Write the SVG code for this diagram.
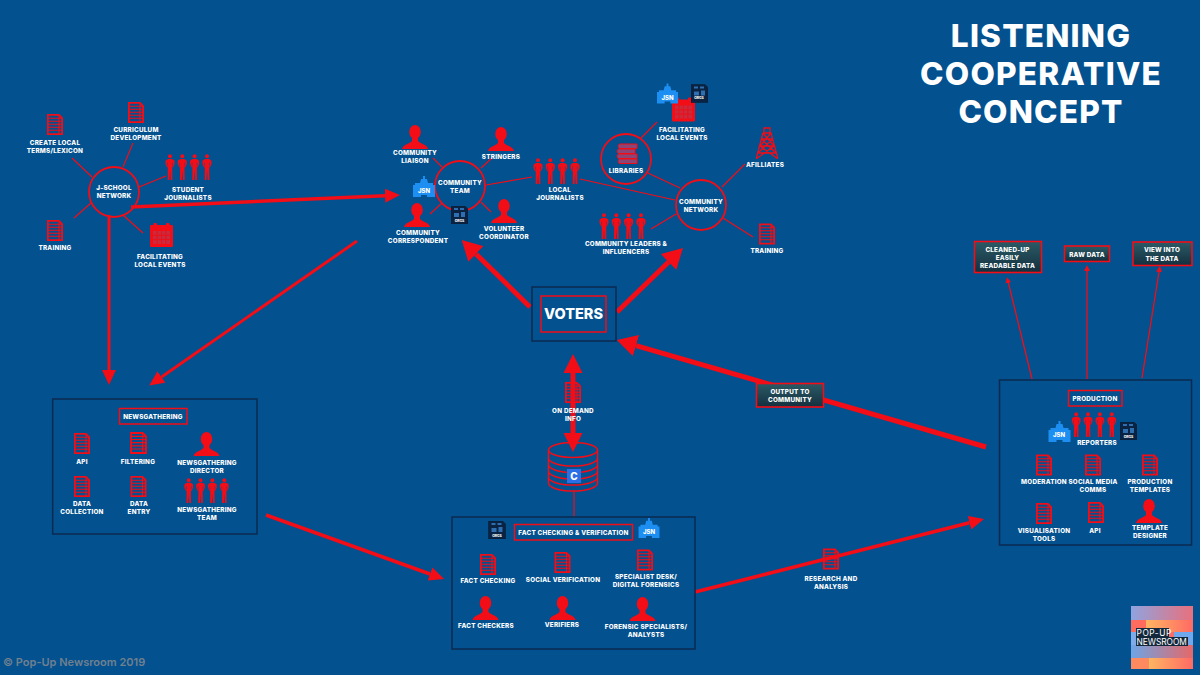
<svg xmlns="http://www.w3.org/2000/svg" width="1200" height="675" viewBox="0 0 1200 675">
<style>
text{font-family:Inter,"Liberation Sans",sans-serif;font-weight:800;fill:#fff;text-anchor:middle}
.l{font-size:6.3px;letter-spacing:.24px}
.ttl{font-size:31.6px;letter-spacing:1.2px}
.j{font-size:6px;font-weight:800}
.o{font-size:3.4px}
.c{fill:none;stroke:#f20d17;stroke-width:1.8}
.t{stroke:#f20d17;stroke-width:1.2;fill:none}
.a{stroke:#f20d17;fill:none}
.box{fill:none;stroke:#0c2a50;stroke-width:1.5}
.rb{fill:none;stroke:#f20d17;stroke-width:1.5}
.btn{fill:url(#btn);stroke:#f20d17;stroke-width:1.6}
</style>
<defs>
<linearGradient id="btn" x1="0" y1="0" x2="0" y2="1"><stop offset="0" stop-color="#2b5a66"/><stop offset="1" stop-color="#14303f"/></linearGradient>
<linearGradient id="lg1" x1="0" y1="0" x2="1" y2="0"><stop offset="0" stop-color="#8fa4e0"/><stop offset="1" stop-color="#e8707c"/></linearGradient>
<linearGradient id="lg2" x1="0" y1="0" x2="1" y2="0"><stop offset="0" stop-color="#ffb562"/><stop offset="1" stop-color="#ff6a64"/></linearGradient>
<linearGradient id="lg3" x1="0" y1="0" x2="1" y2="0"><stop offset="0" stop-color="#78aef0"/><stop offset="1" stop-color="#ff6a64"/></linearGradient>
<marker id="hs" markerUnits="userSpaceOnUse" markerWidth="6" markerHeight="6" viewBox="0 0 6 6" refX="0" refY="3" orient="auto"><polygon points="0,0 6,3 0,6" fill="#f20d17"/></marker>
<marker id="hm" markerUnits="userSpaceOnUse" markerWidth="15" markerHeight="14" viewBox="0 0 15 14" refX="0" refY="7" orient="auto"><polygon points="0,0 15,7 0,14" fill="#f20d17"/></marker>
<marker id="hl" markerUnits="userSpaceOnUse" markerWidth="20" markerHeight="22" viewBox="0 0 20 22" refX="0" refY="11" orient="auto"><polygon points="0,0 20,11 0,22" fill="#f20d17"/></marker>
<symbol id="doc" viewBox="0 0 16 21">
<path d="M.9.9H12L15.100 4V20.100H.9Z" fill="none" stroke="#f20d17" stroke-width="1.8"/>
<path d="M1 4.200H15M1 7.200H15M1 10.200H15M1 13.200H15M1 16.200H15M12 1V20" fill="none" stroke="#f20d17" stroke-width="1.1"/>
</symbol>
<symbol id="person" viewBox="0 0 26 24">
<ellipse cx="13" cy="7" rx="5.800" ry="7" fill="#f20d17"/>
<path d="M0 24C1 19.500 7 19 10 16V12H16V16C19 19 25 19.500 26 24Z" fill="#f20d17"/>
</symbol>
<g id="fig">
<circle cx="5" cy="2.300" r="2" fill="#f20d17"/>
<path d="M3 5H7L9.400 6.500 9.600 10 7.800 13.500 7.200 13 8 10 7.400 8 7.200 13.500 7.400 26H5.600L5.100 16 4.500 26H2.700L2.800 13.500 2.600 8 2 10 2.800 13 2.200 13.500 .4 10 .6 6.500Z" fill="#f20d17"/>
</g>
<symbol id="group" viewBox="0 0 47 26">
<use href="#fig"/><use href="#fig" x="12.300"/><use href="#fig" x="24.600"/><use href="#fig" x="37"/>
</symbol>
<symbol id="cal" viewBox="0 0 23 24">
<rect x="0" y="2" width="23" height="22" rx="1" fill="#f20d17"/>
<rect x="3.500" y="0" width="3.500" height="5" rx="1" fill="#f20d17"/><rect x="16" y="0" width="3.500" height="5" rx="1" fill="#f20d17"/>
<path d="M3 8H20V21H3Z" fill="#c92a3c"/>
<path d="M3 12.300H20M3 16.600H20M7.200 8V21M11.500 8V21M15.800 8V21" stroke="#f20d17" stroke-width=".9" fill="none"/>
</symbol>
<symbol id="tower" viewBox="0 0 22 33">
<path d="M8 2H14V7H8ZM7 7H15L22 33M7 7L0 33M5.500 13H16.500M4 20H18M2 27H20M7 7L18 20M15 7L4 20M5.500 13L20 27M16.500 13L2 27M4 20L22 33M18 20L0 33" fill="none" stroke="#f20d17" stroke-width="1.300"/>
</symbol>
<symbol id="books" viewBox="0 0 22 21">
<path d="M21 1H4C1.500 1 1.500 5.500 4 5.500H21ZM19 6H3C.5 6 .5 10.500 3 10.500H19ZM21 11H3C.5 11 .5 15.500 3 15.500H21ZM21 16H4C1.500 16 1.500 20.500 4 20.500H21Z" fill="#8c4676" stroke="#f20d17" stroke-width="1"/>
</symbol>
<symbol id="jsn" viewBox="0 0 22 21">
<path d="M10 0H12V3H14L15 7H20V9H22V21H14V19H8V21H0V9H2V7H7L8 3H10Z" fill="#1d8ff2"/>
</symbol>
<symbol id="orgs" viewBox="0 0 17 18">
<path d="M0 0H14L17 3V18H0Z" fill="#0b2342" stroke="#082038" stroke-width=".6"/>
<path d="M3 2H7V4H3ZM9 2H13V4H9ZM3 7H8V11H3ZM10 6H14V11H10Z" fill="#2d6fb0"/>
</symbol>
</defs>
<rect id="background" width="1200" height="675" fill="#03518f"/>

<g id="title"><text class="ttl" x="1041" y="47">LISTENING</text><text class="ttl" x="1041" y="85">COOPERATIVE</text><text class="ttl" x="1041" y="123">CONCEPT</text></g>

<g id="connectors">
<path class="t" d="M72 158L92 177M133 143L123 167M166 176L139 187M91 203L74 218M123 215L143 233"/>
<path class="t" d="M433 158L442 167M481 168L492 158M486 185L532 177M430 214L442 203M481 202L491 212M580 179L675 200M641 138L657 122M648 173L680 188M722 187L745 164M723 218L753 237M651 229L676 214M574 491V517"/>
<path class="a" stroke-width="3.500" d="M131 207L385 195.700" marker-end="url(#hm)"/>
<path class="a" stroke-width="3" d="M109 215V370" marker-end="url(#hm)"/>
<path class="a" stroke-width="3" d="M357 241L161.500 377" marker-end="url(#hm)"/>
<path class="a" stroke-width="3.500" d="M266 515L430 574" marker-end="url(#hm)"/>
<path class="a" stroke-width="3.500" d="M695 592L969.500 522.700" marker-end="url(#hm)"/>
<path class="a" stroke-width="5" d="M986 447L636 345.600" marker-end="url(#hl)"/>
<path class="a" stroke-width="5" d="M530 307L476 254" marker-end="url(#hl)"/>
<path class="a" stroke-width="5" d="M617 312L668.600 262" marker-end="url(#hl)"/>
<path class="a" stroke-width="5" d="M573 373V433"/>
<polygon points="573,354 582.500,373 563.500,373" fill="#f20d17"/>
<polygon points="573,452 582.500,433 563.500,433" fill="#f20d17"/>
<path class="a" stroke-width="1.300" d="M1032 379L1008.400 283" marker-end="url(#hs)"/>
<path class="a" stroke-width="1.300" d="M1087 379V271" marker-end="url(#hs)"/>
<path class="a" stroke-width="1.300" d="M1142 378L1159 272" marker-end="url(#hs)"/>
</g>

<g id="n-jschool"><circle class="c" cx="114" cy="192" r="25"/><text class="l" x="114" y="189.500">J-SCHOOL</text><text class="l" x="114" y="197.500">NETWORK</text></g>
<g id="n-create"><use href="#doc" x="47" y="114" width="16" height="21"/><text class="l" x="55" y="144.500">CREATE LOCAL</text><text class="l" x="55" y="152.500">TERMS/LEXICON</text></g>
<g id="n-curriculum"><use href="#doc" x="128" y="102" width="16" height="21"/><text class="l" x="136" y="132">CURRICULUM</text><text class="l" x="136" y="140">DEVELOPMENT</text></g>
<g id="n-student"><use href="#group" x="165" y="154" width="47" height="26"/><text class="l" x="188" y="191.500">STUDENT</text><text class="l" x="188" y="199.500">JOURNALISTS</text></g>
<g id="n-training1"><use href="#doc" x="47" y="220" width="16" height="21"/><text class="l" x="55" y="249.500">TRAINING</text></g>
<g id="n-events1"><use href="#cal" x="150" y="223" width="23" height="24"/><text class="l" x="160" y="258.500">FACILITATING</text><text class="l" x="160" y="266.500">LOCAL EVENTS</text></g>

<g id="n-communityteam"><circle class="c" cx="460" cy="186" r="25"/><text class="l" x="460" y="184.500">COMMUNITY</text><text class="l" x="460" y="192.500">TEAM</text>
<use href="#jsn" x="413" y="176" width="22" height="21"/><text class="j" x="424" y="192.500">JSN</text>
<use href="#orgs" x="451" y="206" width="17" height="18"/><text class="o" x="459.500" y="221.500">ORGS</text></g>
<g id="n-liaison"><use href="#person" x="402" y="125" width="26" height="24"/><text class="l" x="415" y="155.200">COMMUNITY</text><text class="l" x="415" y="163.200">LIAISON</text></g>
<g id="n-stringers"><use href="#person" x="488" y="127" width="26" height="24"/><text class="l" x="501" y="158.500">STRINGERS</text></g>
<g id="n-correspondent"><use href="#person" x="404" y="203" width="26" height="24"/><text class="l" x="418" y="235.200">COMMUNITY</text><text class="l" x="418" y="243.200">CORRESPONDENT</text></g>
<g id="n-volunteer"><use href="#person" x="491" y="199" width="26" height="24"/><text class="l" x="504" y="231">VOLUNTEER</text><text class="l" x="504" y="239">COORDINATOR</text></g>
<g id="n-localj"><use href="#group" x="533" y="158" width="47" height="26"/><text class="l" x="560" y="192">LOCAL</text><text class="l" x="560" y="200">JOURNALISTS</text></g>
<g id="n-libraries"><circle class="c" cx="626" cy="159" r="25"/><use href="#books" x="616" y="143" width="22" height="21"/><text class="l" x="626" y="173.200">LIBRARIES</text></g>
<g id="n-events2"><use href="#cal" x="672" y="97" width="23" height="25"/><use href="#jsn" x="657" y="83" width="21" height="21"/><text class="j" x="667.500" y="99.500">JSN</text><use href="#orgs" x="691" y="84" width="17" height="19"/><text class="o" x="699" y="99">ORGS</text><text class="l" x="682" y="132">FACILITATING</text><text class="l" x="682" y="140">LOCAL EVENTS</text></g>
<g id="n-communitynetwork"><circle class="c" cx="701" cy="205" r="25"/><text class="l" x="701" y="203.500">COMMUNITY</text><text class="l" x="701" y="211.500">NETWORK</text></g>
<g id="n-affiliates"><use href="#tower" x="756" y="126" width="22" height="33"/><text class="l" x="765" y="166.500">AFILLIATES</text></g>
<g id="n-training2"><use href="#doc" x="759" y="223" width="16" height="22"/><text class="l" x="767" y="252.500">TRAINING</text></g>
<g id="n-leaders"><use href="#group" x="599" y="213" width="47" height="26"/><text class="l" x="626" y="246">COMMUNITY LEADERS &amp;</text><text class="l" x="626" y="254">INFLUENCERS</text></g>

<g id="n-voters"><rect class="box" x="532" y="287" width="84" height="54"/><rect class="rb" x="541" y="296" width="65" height="36"/><text x="573.500" y="319" font-size="14.500">VOTERS</text></g>
<g id="n-ondemand"><use href="#doc" x="565" y="382" width="16" height="21"/><text class="l" x="573" y="413.200">ON DEMAND</text><text class="l" x="573" y="421.200">INFO</text></g>
<g id="n-db"><g fill="none" stroke="#f20d17" stroke-width="1.500"><ellipse cx="573" cy="450" rx="24.500" ry="7.500"/><path d="M548.500 450V483C548.500 487.500 559 491 573 491S597.500 487.500 597.500 483V450M548.500 458C548.500 462.500 559 466 573 466S597.500 462.500 597.500 458M548.500 464.500C548.500 469 559 472.500 573 472.500S597.500 469 597.500 464.500M548.500 471C548.500 475.500 559 479 573 479S597.500 475.500 597.500 471M548.500 477C548.500 481.500 559 485 573 485S597.500 481.500 597.500 477"/></g><rect x="567" y="469" width="14" height="14" fill="#2a6fe6"/><text x="574" y="480" font-size="10">C</text></g>

<g id="n-factcheck"><rect class="box" x="452" y="517" width="243" height="132"/>
<rect class="rb" x="514.500" y="524.500" width="118" height="15.500"/><text class="l" x="573.500" y="534.500">FACT CHECKING &amp; VERIFICATION</text>
<use href="#orgs" x="488" y="521" width="18" height="18"/><text class="o" x="497" y="536.500">ORGS</text>
<use href="#jsn" x="638" y="518" width="22" height="20"/><text class="j" x="649" y="534">JSN</text>
<use href="#doc" x="480" y="554" width="16" height="21"/><text class="l" x="488" y="582.500">FACT CHECKING</text>
<use href="#doc" x="554" y="552" width="17" height="21"/><text class="l" x="563" y="582.200">SOCIAL VERIFICATION</text>
<use href="#doc" x="637" y="549" width="16" height="22"/><text class="l" x="646" y="579">SPECIALIST DESK/</text><text class="l" x="646" y="587">DIGITAL FORENSICS</text>
<use href="#person" x="472" y="596" width="27" height="24"/><text class="l" x="486" y="627.500">FACT CHECKERS</text>
<use href="#person" x="549" y="596" width="27" height="24"/><text class="l" x="562" y="627">VERIFIERS</text>
<use href="#person" x="629" y="597" width="27" height="24"/><text class="l" x="646" y="629">FORENSIC SPECIALISTS/</text><text class="l" x="646" y="637">ANALYSTS</text></g>

<g id="n-newsgathering"><rect class="box" x="52.700" y="399" width="204.300" height="135"/>
<rect class="rb" x="119.500" y="408.500" width="67.500" height="15.500"/><text class="l" x="153" y="419">NEWSGATHERING</text>
<use href="#doc" x="74" y="433" width="16" height="21"/><text class="l" x="82" y="463.500">API</text>
<use href="#doc" x="130" y="432" width="17" height="22"/><text class="l" x="138" y="464">FILTERING</text>
<use href="#person" x="193" y="432" width="27" height="24"/><text class="l" x="207" y="464.500">NEWSGATHERING</text><text class="l" x="207" y="472.500">DIRECTOR</text>
<use href="#doc" x="74" y="476" width="16" height="21"/><text class="l" x="82" y="506">DATA</text><text class="l" x="82" y="514">COLLECTION</text>
<use href="#doc" x="130" y="476" width="17" height="21"/><text class="l" x="139" y="506">DATA</text><text class="l" x="139" y="514">ENTRY</text>
<use href="#group" x="183" y="478" width="47" height="25"/><text class="l" x="207" y="512">NEWSGATHERING</text><text class="l" x="207" y="520">TEAM</text></g>

<g id="n-output"><rect class="btn" x="756.500" y="383.500" width="67" height="23.500"/><text class="l" x="790" y="394">OUTPUT TO</text><text class="l" x="790" y="402">COMMUNITY</text></g>
<g id="n-research"><use href="#doc" x="823" y="548" width="16" height="22"/><text class="l" x="831" y="580.500">RESEARCH AND</text><text class="l" x="831" y="588.500">ANALYSIS</text></g>

<g id="n-production"><rect class="box" x="999.500" y="380" width="192" height="165"/>
<rect class="rb" x="1068.500" y="390.500" width="53.500" height="15.500"/><text class="l" x="1095" y="400.500">PRODUCTION</text>
<use href="#jsn" x="1048" y="421" width="23" height="21"/><text class="j" x="1059" y="437">JSN</text>
<use href="#group" x="1071" y="412" width="46" height="25"/><text class="l" x="1097" y="445">REPORTERS</text>
<use href="#orgs" x="1120" y="422" width="17" height="18"/><text class="o" x="1128.500" y="437.500">ORGS</text>
<use href="#doc" x="1036" y="454" width="16" height="22"/><text class="l" x="1044" y="483.500">MODERATION</text>
<use href="#doc" x="1085" y="454" width="16" height="22"/><text class="l" x="1093" y="483.500">SOCIAL MEDIA</text><text class="l" x="1093" y="491.500">COMMS</text>
<use href="#doc" x="1142" y="454" width="16" height="22"/><text class="l" x="1150" y="483.500">PRODUCTION</text><text class="l" x="1150" y="491.500">TEMPLATES</text>
<use href="#doc" x="1036" y="503" width="16" height="21"/><text class="l" x="1044" y="532.500">VISUALISATION</text><text class="l" x="1044" y="540.500">TOOLS</text>
<use href="#doc" x="1088" y="502" width="16" height="21"/><text class="l" x="1095" y="532.500">API</text>
<use href="#person" x="1136" y="499" width="26" height="24"/><text class="l" x="1150" y="530">TEMPLATE</text><text class="l" x="1150" y="538">DESIGNER</text></g>

<g id="n-cleaned"><rect class="btn" x="974.500" y="241.500" width="67" height="31"/><text class="l" x="1007.500" y="251.500">CLEANED-UP</text><text class="l" x="1007.500" y="259.500">EASILY</text><text class="l" x="1007.500" y="267.500">READABLE DATA</text></g>
<g id="n-raw"><rect class="btn" x="1064.500" y="246" width="45" height="15.500"/><text class="l" x="1087" y="256.500">RAW DATA</text></g>
<g id="n-view"><rect class="btn" x="1133" y="242" width="59" height="23.500"/><text class="l" x="1162" y="252">VIEW INTO</text><text class="l" x="1162" y="260.500">THE DATA</text></g>

<g id="logo">
<rect x="1131" y="606" width="62" height="14" fill="url(#lg1)"/>
<rect x="1131" y="620" width="15" height="12" fill="#ff6b5c"/><rect x="1146" y="620" width="47" height="12" fill="url(#lg2)"/>
<rect x="1131" y="632" width="43" height="13" fill="url(#lg3)"/><rect x="1174" y="632" width="19" height="13" fill="#70a8f0"/>
<rect x="1131" y="645" width="62" height="13" fill="url(#lg3)" opacity=".9"/>
<rect x="1131" y="658" width="18" height="11" fill="#ff8a60"/><rect x="1149" y="658" width="44" height="11" fill="url(#lg2)"/>
<rect x="1136" y="628" width="33" height="9" fill="#14283c"/><rect x="1136" y="637" width="52" height="9" fill="#14283c"/>
<text x="1136.500" y="635.800" font-size="8.300" style="font-weight:400;text-anchor:start;letter-spacing:.6px">POP-UP</text><text x="1136.500" y="644.800" font-size="8.300" style="font-weight:400;text-anchor:start">NEWSROOM</text>
</g>
<text id="copyright" x="3" y="666" font-size="11" style="text-anchor:start;fill:#70808f;font-weight:600">© Pop-Up Newsroom 2019</text>
</svg>
